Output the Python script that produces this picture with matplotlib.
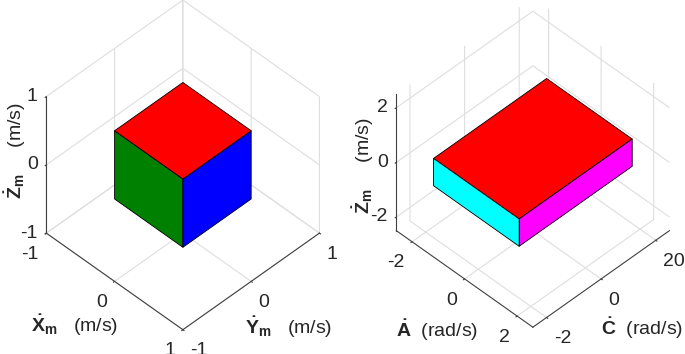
import numpy as np
import matplotlib
matplotlib.use('Agg')
import matplotlib.pyplot as plt
from mpl_toolkits.mplot3d.art3d import Poly3DCollection

plt.rcParams['font.family'] = ['Liberation Sans', 'DejaVu Sans']
plt.rcParams['mathtext.fontset'] = 'custom'
plt.rcParams['mathtext.rm'] = 'Liberation Sans'
plt.rcParams['mathtext.bf'] = 'Liberation Sans:bold'
plt.rcParams['axes.unicode_minus'] = False

# limits of the box shown in each panel
left_lims = [(-1, 1), (-1, 1), (-1, 1)]
right_lims = [(-2.6, 2.6), (-2.5, 2.5), (-2.5, 2.5)]

# extents of the two blocks
left_block = [(-0.5, 0.5), (-0.5, 0.5), (-0.5, 0.5)]
right_block = [(-1.63, 1.63), (-2.07, 2.07), (-0.5, 0.5)]

left_ticks = [-1, 0, 1]
right_ticks = [-2, 0, 2]
left_labels = ['-1', '0', '1']
right_x_labels = ['-2', '0', '2']
right_y_labels = ['-2', '0', '20']
right_z_labels = ['-2', '0', '2']

left_colors = ['green', 'blue', 'red']
right_colors = ['cyan', 'magenta', 'red']

TXT = '#262626'
W, H = 685, 354


def block_faces(ext):
    (x0, x1), (y0, y1), (z0, z1) = ext
    front_x = [(x1, y0, z0), (x1, y1, z0), (x1, y1, z1), (x1, y0, z1)]
    front_y = [(x0, y0, z0), (x1, y0, z0), (x1, y0, z1), (x0, y0, z1)]
    top = [(x0, y0, z1), (x1, y0, z1), (x1, y1, z1), (x0, y1, z1)]
    return [front_y, front_x, top]


def panel(rect, lims, block, colors, xt, xl, yt, yl, zt, zl):
    ax = fig.add_axes(rect, projection='3d')
    ax.set_proj_type('ortho')
    ax.view_init(elev=45, azim=-45)
    ax.patch.set_alpha(0)
    ax.set_xlim(lims[0])
    ax.set_ylim(lims[1])
    ax.set_zlim(lims[2])
    ax.set_box_aspect((1, 1, 1), zoom=0.948)
    ax.set_xticks(xt, xl)
    ax.set_yticks(yt, yl)
    ax.set_zticks(zt, zl)
    for axis in (ax.xaxis, ax.yaxis, ax.zaxis):
        axis.set_pane_color((1, 1, 1, 0))
        axis.pane.set_edgecolor((0.85, 0.85, 0.85))
        axis.line.set_color('#404040')
        axis.line.set_linewidth(0.8)
        axis._axinfo['grid']['color'] = (0.87, 0.87, 0.87)
        axis._axinfo['grid']['linewidth'] = 0.8
        axis._axinfo['tick']['inward_factor'] = 0.1
        axis._axinfo['tick']['outward_factor'] = 0.0
        axis._axinfo['tick']['linewidth'] = {True: 0.8, False: 0.5}
        axis.set_tick_params(labelsize=14, labelcolor=TXT, color='#404040', pad=-1)
    ax.zaxis.set_tick_params(pad=-4)
    ax.zaxis.set_ticks_position('lower')
    for t in ax.xaxis.get_ticklabels():
        t.set_ha('right')
    for t in ax.yaxis.get_ticklabels():
        t.set_ha('left')
    for t in ax.zaxis.get_ticklabels():
        t.set_ha('right')
        t.set_va('center')
    ax.add_collection3d(Poly3DCollection(block_faces(block), facecolors=colors,
                                         edgecolors='black', linewidths=0.6))
    return ax


fig = plt.figure(figsize=(6.85, 3.54), dpi=100)
panel([7 / W, 7.5 / H, 0.5, 1.0], left_lims, left_block, left_colors,
      left_ticks, left_labels, left_ticks, left_labels, left_ticks, left_labels)
panel([0.5 + 14.5 / W, 10 / H, 0.5, 1.0], right_lims, right_block, right_colors,
      right_ticks, right_x_labels, right_ticks, right_y_labels, right_ticks, right_z_labels)


def label(px, py, txt, rot=0):
    fig.text(px / W, 1 - py / H, txt, fontsize=14, color=TXT, rotation=rot,
             ha='center', va='center')


label(75, 325, r'$\mathbf{\dot{X}_m}$   (m/s)')
label(289, 327, r'$\mathbf{\dot{Y}_m}$   (m/s)')
label(15, 150, r'$\mathbf{\dot{Z}_m}$     (m/s)', rot=90)
label(437, 330, r'$\mathbf{\dot{A}}$  (rad/s)')
label(642, 328, r'$\mathbf{\dot{C}}$  (rad/s)')
label(363, 165, r'$\mathbf{\dot{Z}_m}$     (m/s)', rot=90)

fig.savefig('out.png', dpi=100)
